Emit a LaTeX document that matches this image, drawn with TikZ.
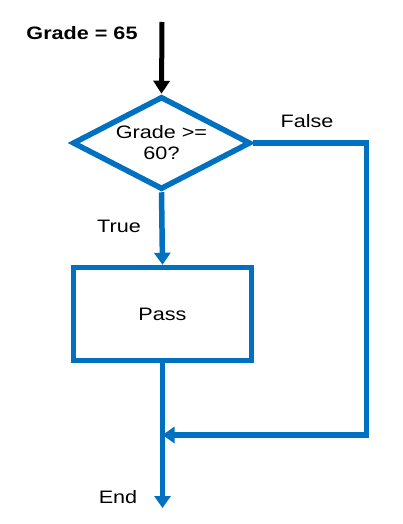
\documentclass[tikz,border=0pt]{standalone}
\usepackage{fontspec}
\setmainfont[FakeStretch=1.2]{Liberation Sans}
\usetikzlibrary{shapes.geometric,arrows.meta}
\definecolor{flowblue}{RGB}{0,112,192}
\tikzset{
  flow/.style={line width=5.5pt, draw=flowblue},
  tip/.style={-{Triangle[length=12pt,width=16pt]}},
  lbl/.style={font=\fontsize{18}{20}\selectfont, text=black, inner sep=0pt},
  decision/.style={flow, shape=diamond, aspect=2.1, fill=white, minimum width=178pt, minimum height=93pt, inner sep=0pt, align=center, font=\fontsize{18}{21}\selectfont},
  process/.style={flow, shape=rectangle, fill=white, minimum width=178pt, minimum height=93pt, inner sep=0pt, font=\fontsize{18}{20}\selectfont}
}
\begin{document}
\begin{tikzpicture}[x=1pt,y=-1pt]
\useasboundingbox (0,0) rectangle (403,524);
\node[lbl, font=\fontsize{18}{20}\selectfont\bfseries] (given) at (82,33) {Grade = 65};
\coordinate (start) at (162,22);
\node[decision] (d) at (161.5,143) {Grade >=\\60?};
\node[process] (p) at (162.5,314) {Pass};
\coordinate (corner) at (366.5,435);
\coordinate (merge) at (162.5,435);
\coordinate (finish) at (162.5,508);
\node[lbl] (false) at (307,121) {False};
\node[lbl] (true) at (119,226) {True};
\node[lbl] (end) at (118,497) {End};
\draw[line width=5pt, draw=black, -{Triangle[length=13pt,width=16pt]}] (start) -- (d.north);
\draw[flow, tip] (d.south) -- (p.north);
\draw[flow, tip] (d.east) -| (corner) -- (merge);
\draw[flow, tip] (p.south) -- (finish);
\end{tikzpicture}
\end{document}
